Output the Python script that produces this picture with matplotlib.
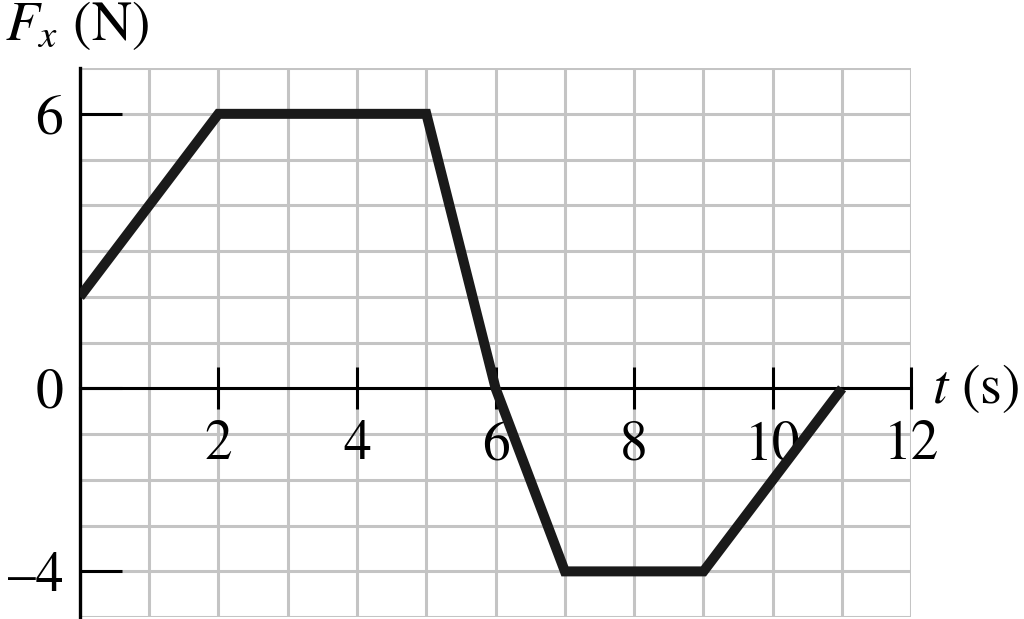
import matplotlib
matplotlib.use("Agg")
import matplotlib.pyplot as plt

# Force vs time (piecewise linear)
t = [0, 2, 5, 6, 7, 9, 11]
fx = [2, 6, 6, 0, -4, -4, 0]

x_major = [2, 4, 6, 8, 10, 12]
x_grid = list(range(0, 13))
y_major = [-4, 0, 6]
y_labels = ["\u20134", "0", "6"]
y_grid = list(range(-5, 8))

plt.rcParams['font.family'] = 'STIXGeneral'
plt.rcParams['mathtext.fontset'] = 'stix'

fig = plt.figure(figsize=(10.24, 6.19), dpi=100)
ax = fig.add_axes([0.078, 0.003, 0.812, 0.887])
ax.set_xlim(0, 12)
ax.set_ylim(-5, 7)

grid_col = '#c4c4c4'
for xv in x_grid:
    ax.axvline(xv, color=grid_col, lw=2.2, zorder=0)
for yv in y_grid:
    ax.axhline(yv, color=grid_col, lw=2.2, zorder=0)

ax.plot(t, fx, color='#1a1a1a', lw=7.2, solid_joinstyle='miter', solid_capstyle='butt', zorder=3)

for s in ['top', 'right']:
    ax.spines[s].set_visible(False)
ax.spines['bottom'].set_position(('data', 0))
ax.spines['bottom'].set_linewidth(2.2)
ax.spines['left'].set_linewidth(2.4)
ax.spines['bottom'].set_zorder(2)

ax.set_xticks(x_major)
ax.set_xticklabels([str(v) for v in x_major])
ax.set_yticks(y_major)
ax.set_yticklabels(y_labels)
ax.tick_params(axis='x', direction='inout', length=30, width=2.2, labelsize=40, pad=8)
ax.tick_params(axis='y', direction='in', length=30, width=2.2, labelsize=40, pad=12)

fig.text(0.005, 0.935, r'$F_x$ (N)', fontsize=40, ha='left', va='baseline')
ax.text(12.3, 0, r'$t$ (s)', fontsize=40, ha='left', va='center', clip_on=False)

fig.savefig('out.png', dpi=100)
